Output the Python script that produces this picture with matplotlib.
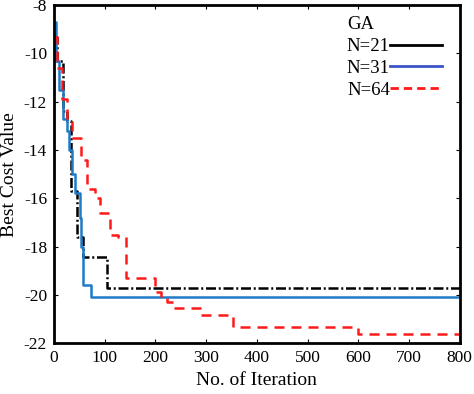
import numpy as np
import matplotlib.pyplot as plt
from matplotlib.lines import Line2D

plt.rcParams['font.family'] = 'Liberation Serif'
plt.rcParams['axes.unicode_minus'] = False

# iteration / best cost pairs (step curves)
it21 = [0, 5, 17, 25, 34, 45, 58, 104, 800]
cost21 = [-9.3, -10.3, -12.4, -12.8, -15.7, -17.6, -18.45, -19.7, -19.7]

it31 = [0, 4, 10, 17, 25, 30, 36, 42, 51, 54, 58, 72, 800]
cost31 = [-8.7, -10.3, -11.5, -12.7, -13.2, -14.0, -15.0, -15.8, -16.8, -18.0, -19.6, -20.1, -20.1]

it64 = [0, 6, 15, 25, 35, 54, 65, 81, 91, 110, 127, 142, 199, 210, 222, 235, 290, 353, 600, 800]
cost64 = [-9.3, -10.6, -11.9, -12.7, -13.5, -14.4, -15.6, -16.0, -16.6, -17.5, -17.6, -19.3, -19.9,
          -20.1, -20.3, -20.55, -20.85, -21.35, -21.6, -21.6]

xticks = np.arange(0, 801, 100)
yticks = np.arange(-22, -7, 2)

fig = plt.figure(figsize=(4.74, 3.94), dpi=100)
ax = fig.add_axes([0.114, 0.129, 0.856, 0.858])

lw = 1.8
ax.step(it21, cost21, where='post', color='black', lw=lw, linestyle=(0, (4, 1.1, 0.8, 1.1)))
ax.step(it31, cost31, where='post', color='#1f7bc6', lw=lw)
ax.step(it64, cost64, where='post', color='#ff1a1a', lw=lw, linestyle=(0, (4, 2.8)))

ax.set_xlim(0, 800)
ax.set_ylim(-22, -8)
ax.set_xticks(xticks)
ax.set_yticks(yticks)
ax.tick_params(direction='in', top=True, right=True, labelsize=12.5, width=0.8, length=3, pad=5)
for s in ax.spines.values():
    s.set_linewidth(2)
ax.set_xlabel('No. of Iteration', fontsize=14, labelpad=4)
ax.set_ylabel('Best Cost Value', fontsize=14)
ax.yaxis.set_label_coords(-0.09, 0.5)

handles = [Line2D([], [], color='black', lw=2),
           Line2D([], [], color='#3a55c8', lw=2),
           Line2D([], [], color='#ff1a1a', lw=2, linestyle=(0, (3, 1.8)))]
leg = ax.legend(handles, ['N=21', 'N=31', 'N=64'], title='GA', loc='upper right',
                frameon=False, markerfirst=False, fontsize=13.5, title_fontsize=13.5,
                handlelength=2.8, handletextpad=0.0, labelspacing=0.25,
                borderaxespad=0.2, bbox_to_anchor=(0.985, 1.0))
leg._legend_box.align = 'left'

plt.savefig('out.png', dpi=100)
